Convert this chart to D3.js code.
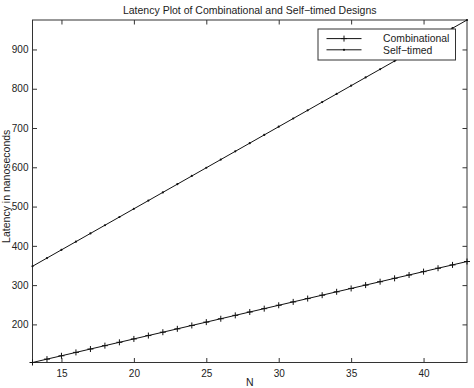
<!DOCTYPE html>
<html>
<head>
<meta charset="utf-8">
<script src="https://cdn.jsdelivr.net/npm/d3@7"></script>
<style>
  body { margin: 0; background: #fff; }
  svg { font-family: "Liberation Sans", Arial, sans-serif; }
</style>
</head>
<body>
<div id="chart"></div>
<script>
// values
const nValues = [13, 14, 15, 16, 17, 18, 19, 20, 21, 22, 23, 24, 25, 26, 27, 28,
  29, 30, 31, 32, 33, 34, 35, 36, 37, 38, 39, 40, 41, 42, 43];

const combinational = [103, 111.6, 120.1, 128.7, 137.3, 145.9, 154.4, 163.0, 171.6,
  180.1, 188.7, 197.3, 205.8, 214.4, 223.0, 231.6, 240.1, 248.7, 257.3, 265.8,
  274.4, 283.0, 291.5, 300.1, 308.7, 317.3, 325.8, 334.4, 343.0, 351.5, 360.1];

const selfTimed = [348.0, 368.9, 389.8, 410.7, 431.6, 452.5, 473.4, 494.3, 515.2,
  536.1, 557.0, 577.9, 598.8, 619.7, 640.6, 661.5, 682.4, 703.3, 724.2, 745.1,
  766.0, 786.9, 807.8, 828.7, 849.6, 870.5, 891.4, 912.3, 933.2, 954.1, 975.0];

const xTicks = [15, 20, 25, 30, 35, 40];
const yTicks = [200, 300, 400, 500, 600, 700, 800, 900];
const seriesNames = ["Combinational", "Self\u2212timed"];

const W = 474, H = 388;
const margin = { top: 20, right: 7, bottom: 25.5, left: 32.5 };
const width = W - margin.left - margin.right;
const height = H - margin.top - margin.bottom;

const svg = d3.select("#chart").append("svg")
  .attr("width", W)
  .attr("height", H);

const g = svg.append("g")
  .attr("transform", "translate(" + margin.left + "," + margin.top + ")");

const x = d3.scaleLinear().domain([13, 43]).range([0, width]);
const y = d3.scaleLinear().domain([103, 975]).range([height, 0]);

// axes, ticks pointing inwards like matlab
const tick = 4.5;
const axisStyle = sel => {
  sel.select(".domain").remove();
  sel.selectAll("line").attr("stroke", "#333");
  sel.selectAll("text").attr("fill", "#222").style("font-size", "10px");
};

g.append("g")
  .attr("transform", "translate(0," + height + ")")
  .call(d3.axisBottom(x).tickValues(xTicks).tickSizeInner(-tick).tickSizeOuter(0).tickPadding(7))
  .call(axisStyle);

g.append("g")
  .call(d3.axisTop(x).tickValues(xTicks).tickSizeInner(-tick).tickSizeOuter(0).tickFormat(""))
  .call(axisStyle);

g.append("g")
  .call(d3.axisLeft(y).tickValues(yTicks).tickSizeInner(-tick).tickSizeOuter(0).tickPadding(4))
  .call(axisStyle);

g.append("g")
  .attr("transform", "translate(" + width + ",0)")
  .call(d3.axisRight(y).tickValues(yTicks).tickSizeInner(-tick).tickSizeOuter(0).tickFormat(""))
  .call(axisStyle);

// frame
g.append("rect")
  .attr("width", width)
  .attr("height", height)
  .attr("fill", "none")
  .attr("stroke", "#333")
  .attr("stroke-width", 1);

const line = d3.line()
  .x((d, i) => x(nValues[i]))
  .y(d => y(d));

const plot = g.append("g");

plot.append("path")
  .datum(combinational)
  .attr("fill", "none")
  .attr("stroke", "#111")
  .attr("stroke-width", 1)
  .attr("d", line);

plot.append("path")
  .datum(selfTimed)
  .attr("fill", "none")
  .attr("stroke", "#111")
  .attr("stroke-width", 1)
  .attr("d", line);

// + markers
const crossPath = s => "M" + (-s) + ",0H" + s + "M0," + (-s) + "V" + s;

plot.selectAll(".comb")
  .data(combinational)
  .enter()
  .append("path")
  .attr("class", "comb")
  .attr("transform", (d, i) => "translate(" + x(nValues[i]) + "," + y(d) + ")")
  .attr("d", crossPath(3))
  .attr("stroke", "#111")
  .attr("stroke-width", 1);

// dot markers
plot.selectAll(".self")
  .data(selfTimed)
  .enter()
  .append("circle")
  .attr("class", "self")
  .attr("cx", (d, i) => x(nValues[i]))
  .attr("cy", d => y(d))
  .attr("r", 1.1)
  .attr("fill", "#111");

// legend (white box hides the line behind it)
const legend = g.append("g")
  .attr("transform", "translate(" + (318 - margin.left) + "," + (29 - margin.top) + ")");

legend.append("rect")
  .attr("width", 137.5)
  .attr("height", 31)
  .attr("fill", "#fff")
  .attr("stroke", "#333")
  .attr("stroke-width", 1);

seriesNames.forEach((name, i) => {
  const ly = 9.6 + i * 11.2;
  legend.append("line")
    .attr("x1", 8.5).attr("x2", 43.5)
    .attr("y1", ly).attr("y2", ly)
    .attr("stroke", "#111");
  if (i === 0) {
    legend.append("path")
      .attr("transform", "translate(26," + ly + ")")
      .attr("d", crossPath(3))
      .attr("stroke", "#111");
  } else {
    legend.append("circle")
      .attr("cx", 26).attr("cy", ly).attr("r", 1.1).attr("fill", "#111");
  }
  legend.append("text")
    .attr("x", 65)
    .attr("y", ly + 3.8)
    .style("font-size", "10.4px")
    .attr("fill", "#222")
    .text(name);
});

// title and axis labels
svg.append("text")
  .attr("x", margin.left + width / 2)
  .attr("y", 14)
  .attr("text-anchor", "middle")
  .style("font-size", "10.5px")
  .attr("fill", "#222")
  .text("Latency Plot of Combinational and Self\u2212timed Designs");

svg.append("text")
  .attr("x", margin.left + width / 2)
  .attr("y", 386)
  .attr("text-anchor", "middle")
  .style("font-size", "10.5px")
  .attr("fill", "#222")
  .text("N");

svg.append("text")
  .attr("transform", "translate(10," + (margin.top + height / 2 - 5) + ")rotate(-90)")
  .attr("text-anchor", "middle")
  .style("font-size", "10.5px")
  .attr("fill", "#222")
  .text("Latency in nanoseconds");
</script>
</body>
</html>
